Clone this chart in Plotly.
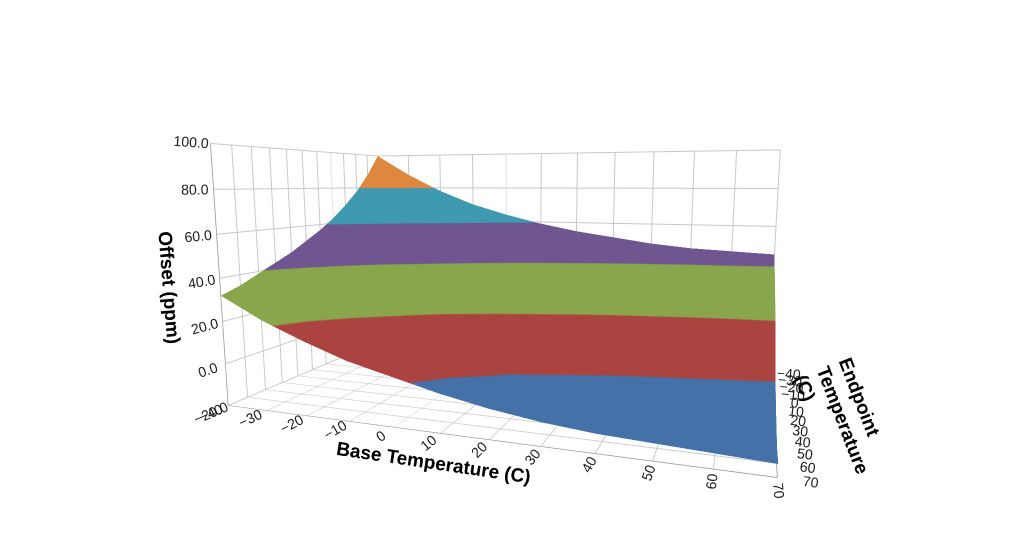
import plotly.graph_objects as go

base_temp = [-40, -30, -20, -10, 0, 10, 20, 30, 40, 50, 60, 70]
endpoint_temp = [-40, -30, -20, -10, 0, 10, 20, 30, 40, 50, 60, 70]

# offset[endpoint][base], ppm
offset = [
    [100, 88, 78, 70, 64, 59, 55, 52, 49, 47, 46, 45],
    [88, 79, 71, 64, 58, 54, 50, 47, 45, 43, 42, 40],
    [78, 70, 63, 57, 52, 48, 44, 41, 39, 37, 36, 35],
    [70, 62, 56, 50, 45, 41, 38, 35, 33, 31, 30, 29],
    [63, 56, 49, 44, 39, 35, 32, 29, 27, 25, 24, 23],
    [57, 50, 43, 38, 33, 29, 26, 23, 21, 19, 17, 16],
    [52, 44, 37, 32, 27, 23, 20, 17, 14, 12, 10, 8],
    [47, 39, 32, 26, 21, 17, 13, 10, 6, 4, 2, 0],
    [43, 34, 27, 21, 15, 11, 7, 3, 0, -2, -4, -5],
    [39, 29, 22, 15, 10, 5, 0, -3, -6, -8, -9, -10],
    [35, 25, 17, 10, 5, 0, -4, -7, -10, -12, -13, -14],
    [32, 22, 14, 7, 2, -3, -7, -10, -12, -13, -14, -15],
]

band_colors = ["#4a7ebb", "#be4b48", "#98b954", "#7d60a0", "#46aac5", "#f79646"]
scale = []
for i, c in enumerate(band_colors):
    scale.append([i / 6, c])
    scale.append([(i + 1) / 6, c])

fig = go.Figure(go.Surface(
    x=base_temp, y=endpoint_temp, z=offset,
    colorscale=scale, cmin=-20, cmax=100, showscale=False,
    lighting=dict(ambient=0.9, diffuse=0.25, specular=0.05),
))

axis_common = dict(showbackground=False, gridcolor="#c8c8c8", linecolor="#888",
                   tickfont=dict(family="Liberation Sans", size=13, color="#222"),
                   showspikes=False)
title_font = dict(size=19, color="black")
fig.update_layout(
    width=1024, height=553,
    margin=dict(l=0, r=0, t=0, b=0),
    paper_bgcolor="white",
    font=dict(family="Liberation Sans"),
    scene=dict(
        xaxis=dict(axis_common, title=dict(text="<b>Base Temperature (C)</b>", font=title_font),
                   range=[-40, 70], dtick=10),
        yaxis=dict(axis_common, title=dict(text="<b>Endpoint<br>Temperature<br>(C)</b>", font=title_font),
                   range=[70, -40], dtick=10),
        zaxis=dict(axis_common, title=dict(text="<b>Offset (ppm)</b>", font=title_font),
                   range=[-20, 100], dtick=20, tickformat=".1f"),
        aspectmode="manual", aspectratio=dict(x=1.7, y=1.0, z=0.85),
        camera=dict(eye=dict(x=0.75, y=-2.2, z=0.3), center=dict(x=0, y=0, z=-0.05)),
    ),
)

fig.write_html("out.html")
